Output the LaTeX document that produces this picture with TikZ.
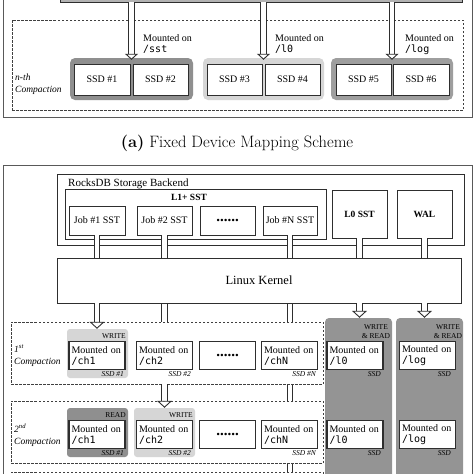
\documentclass[tikz,border=0pt]{standalone}
\usepackage{fontspec}
\usetikzlibrary{arrows.meta,backgrounds}
\newfontfamily\tms{Liberation Serif}
\newfontfamily\mono{DejaVu Sans Mono}
\definecolor{grpdark}{gray}{0.56}
\definecolor{grplight}{gray}{0.84}
\definecolor{colgray}{gray}{0.58}
\definecolor{lines}{gray}{0.18}

\begin{document}
\begin{tikzpicture}[x=1pt, y=-1pt,
    wh/.style 2 args={minimum width=#1pt, minimum height=#2pt},
    frame/.style={rectangle, draw=black!65, line width=1pt, inner sep=0pt},
    dashbox/.style={rectangle, draw=black!75, fill=white, dash pattern=on 2.5pt off 1.5pt, line width=0.8pt, inner sep=0pt},
    box/.style={rectangle, draw=lines, fill=white, line width=0.8pt, inner sep=0pt, font=\tms\fontsize{10}{12}\selectfont},
    mbox/.style={box, line width=1.2pt, align=left, text width=51pt, inner xsep=2.5pt, minimum height=28pt, font=\tms\fontsize{10}{11}\selectfont},
    grp/.style={rectangle, rounded corners=#1, inner sep=0pt},
    pipe/.style={draw=lines, line width=0.9pt, double=white, double distance=4.5pt},
    harrow/.style={pipe, -{Triangle[open, width=15pt, length=7pt, fill=white]}},
    harrowa/.style={pipe, -{Triangle[open, width=13pt, length=6pt, fill=white]}},
    lbl/.style={font=\tms\fontsize{10}{11}\selectfont, align=left, inner sep=0pt},
    tag/.style={font=\tms\fontsize{7.5}{9}\selectfont, inner sep=0pt},
    ssdtag/.style={font=\tms\itshape\fontsize{7.5}{9}\selectfont, inner sep=0pt, anchor=base east},
    comp/.style={font=\tms\itshape\fontsize{9.5}{12}\selectfont, align=left, inner sep=0pt, anchor=west}
]
\useasboundingbox (0,0) rectangle (474,474);
\clip (0,0) rectangle (474,474);

% (a) fixed mapping
\node[frame, wh={469}{137}] (frameA) at (237.5,48.5) {};
\node[rectangle, draw=lines, fill=black!30, wh={402}{32}] (hostA) at (261,-14) {};
\node[dashbox, wh={451}{90}] (compA) at (237.5,65) {};
\node[comp] (compAlbl) at (15,84) {n-th\\Compaction};

\node[grp=5pt, fill=grpdark, wh={123}{42}] (grpA1) at (131.5,79) {};
\node[grp=5pt, fill=grplight, wh={121}{42}] (grpA2) at (263.5,79) {};
\node[grp=5pt, fill=black!38, wh={122}{42}] (grpA3) at (392,79) {};

\node[box, wh={56}{31}] (ssd1) at (102,79.5) {SSD \#1};
\node[box, wh={55}{31}] (ssd2) at (160.5,79.5) {SSD \#2};
\node[box, wh={55}{31}] (ssd3) at (234.5,79.5) {SSD \#3};
\node[box, wh={55}{31}] (ssd4) at (292.5,79.5) {SSD \#4};
\node[box, wh={55}{31}] (ssd5) at (363.5,79.5) {SSD \#5};
\node[box, wh={56}{31}] (ssd6) at (421,79.5) {SSD \#6};

\node[lbl, anchor=north west] (mntA1) at (143,34) {Mounted on\\{\mono /sst}};
\node[lbl, anchor=north west] (mntA2) at (275,34) {Mounted on\\{\mono /l0}};
\node[lbl, anchor=north west] (mntA3) at (405,34) {Mounted on\\{\mono /log}};

\draw[harrowa] (hostA.south -| grpA1) -- ([yshift=-2pt]grpA1.north);
\draw[harrowa] (hostA.south -| grpA2) -- ([yshift=-2pt]grpA2.north);
\draw[harrowa] (hostA.south -| grpA3) -- ([yshift=-2pt]grpA3.north);

\node[font=\fontsize{16.5}{20}\selectfont] (capA) at (237,143) {\textbf{(a)} Fixed Device Mapping Scheme};

% (b) storage backend
\node[frame, wh={469}{360}] (frameB) at (237.5,345) {};
\node[rectangle, draw=lines, line width=0.8pt, wh={407}{71}] (rocks) at (260.5,209.5) {};
\node[lbl, anchor=base west, font=\tms\fontsize{11}{12}\selectfont] (rockslbl) at (68,186) {RocksDB Storage Backend};
\node[rectangle, draw=lines, line width=0.8pt, wh={261}{50}] (lone) at (195.5,214) {};
\node[lbl, font=\tms\bfseries\fontsize{9.5}{11}\selectfont] (lonelbl) at (189,197) {L1+ SST};
\node[box, wh={56}{29}] (job1) at (97,220.5) {Job \#1 SST};
\node[box, wh={55}{29}] (job2) at (164.5,220.5) {Job \#2 SST};
\node[box, wh={55}{29}, font=\tms\bfseries\fontsize{15}{15}\selectfont] (jobdots) at (227.5,220.5) {......};
\node[box, wh={54}{29}] (jobn) at (290,220.5) {Job \#N SST};
\node[box, wh={55}{48}, font=\tms\bfseries\fontsize{9.5}{11}\selectfont] (lzero) at (359.5,214) {L0 SST};
\node[box, wh={55}{48}, font=\tms\bfseries\fontsize{9.5}{11}\selectfont] (wal) at (424.5,214) {WAL};
\node[box, wh={404}{45}, font=\tms\fontsize{12.5}{14}\selectfont] (kernel) at (259,280.5) {Linux Kernel};

% shared SSDs for L0 and WAL
\node[grp=4pt, fill=colgray, wh={67}{202}] (colA) at (358.5,419) {};
\node[grp=4pt, fill=colgray, wh={67}{202}] (colB) at (429.5,419) {};
\node[tag, align=center] (colAlbl) at (376,332) {WRITE\\\& READ};
\node[tag, align=center] (colBlbl) at (448,332) {WRITE\\\& READ};

% 1st compaction
\node[dashbox, wh={312}{62}] (compone) at (167,353) {};
\node[comp] (componelbl) at (14,356) {1\textsuperscript{st}\\Compaction};
\node[grp=3pt, fill=grplight, wh={61}{49}] (grpB1) at (97.5,353.5) {};
\node[tag, anchor=base east] (grpB1lbl) at (126,338) {WRITE};
\node[mbox] (chB1) at (97,355.5) {Mounted on\\{\mono /ch1}};
\node[mbox] (chB2) at (164.5,355.5) {Mounted on\\{\mono /ch2}};
\node[box, wh={56}{28}, font=\tms\bfseries\fontsize{15}{15}\selectfont] (chBdots) at (227.5,355.5) {......};
\node[mbox] (chBN) at (289.5,355.5) {Mounted on\\{\mono /chN}};
\node[mbox] (lzeroB) at (355,355.5) {Mounted on\\{\mono /l0}};
\node[mbox] (logB) at (427.5,355.5) {Mounted on\\{\mono /log}};
\node[ssdtag] (tagB1) at (124,376) {SSD \#1};
\node[ssdtag] (tagB2) at (191,376) {SSD \#2};
\node[ssdtag] (tagBN) at (316,376) {SSD \#N};
\node[ssdtag] (tagBl) at (381,376) {SSD};
\node[ssdtag] (tagBg) at (451,376) {SSD};

% 2nd compaction
\node[dashbox, wh={312}{62}] (comptwo) at (167,432) {};
\node[comp] (comptwolbl) at (14,435) {2\textsuperscript{nd}\\Compaction};
\node[grp=3pt, fill=grpdark, wh={61}{49}] (grpC1) at (97.5,432.5) {};
\node[tag, anchor=base east] (grpC1lbl) at (126,417) {READ};
\node[grp=3pt, fill=grplight, wh={61}{49}] (grpC2) at (164.5,432.5) {};
\node[tag, anchor=base east] (grpC2lbl) at (193,417) {WRITE};
\node[mbox] (chC1) at (97,434.5) {Mounted on\\{\mono /ch1}};
\node[mbox] (chC2) at (164.5,434.5) {Mounted on\\{\mono /ch2}};
\node[box, wh={56}{28}, font=\tms\bfseries\fontsize{15}{15}\selectfont] (chCdots) at (227.5,434.5) {......};
\node[mbox] (chCN) at (289.5,434.5) {Mounted on\\{\mono /chN}};
\node[mbox] (lzeroC) at (355,434.5) {Mounted on\\{\mono /l0}};
\node[mbox] (logC) at (427.5,434.5) {Mounted on\\{\mono /log}};
\node[ssdtag] (tagC1) at (124,455) {SSD \#1};
\node[ssdtag] (tagC2) at (191,455) {SSD \#2};
\node[ssdtag] (tagCN) at (316,455) {SSD \#N};
\node[ssdtag] (tagCl) at (381,455) {SSD};
\node[ssdtag] (tagCg) at (451,455) {SSD};

% next compaction
\node[dashbox, wh={312}{62}] (compthree) at (167,503) {};

% connectors
\draw[pipe] (job1.south) -- (job1 |- kernel.north);
\draw[pipe] (job2.south) -- (job2 |- kernel.north);
\draw[pipe] (jobn.south) -- (jobn |- kernel.north);
\draw[pipe] (lzero.south) -- (lzero |- kernel.north);
\draw[pipe] (wal.south) -- (wal |- kernel.north);

\draw[harrow] (job1 |- kernel.south) -- (job1 |- grpB1.north);
\draw[harrow] (job2 |- compone.south) -- (job2 |- grpC2.north);
\draw[harrow] (lzero |- kernel.south) -- (lzero |- colA.north);
\draw[harrow] (wal |- kernel.south) -- (wal |- colB.north);

% pipes running behind the compaction boxes
\begin{scope}[on background layer]
    \draw[pipe] (job2 |- kernel.south) -- (job2 |- compone.south);
    \draw[pipe] (jobn |- kernel.south) -- (jobn |- frameB.south);
\end{scope}
\end{tikzpicture}
\end{document}
